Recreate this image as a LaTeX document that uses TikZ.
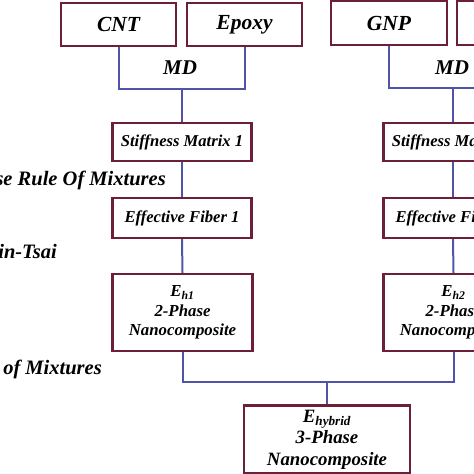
\documentclass[tikz,border=0pt]{standalone}
\usepackage{fontspec}
\setmainfont{Liberation Serif}
\definecolor{boxred}{HTML}{6E1F38}
\definecolor{linkblue}{HTML}{5054A8}
\tikzset{
  every node/.style={font=\bfseries\itshape},
  box/.style={draw=boxred, line width=2.3pt, fill=white, inner sep=0pt, align=center},
  link/.style={draw=linkblue, line width=2pt},
  top/.style={box, minimum width=115pt, minimum height=43pt, font=\fontsize{21.5}{23}\selectfont\bfseries\itshape},
  lbl/.style={inner sep=0pt, anchor=east, font=\fontsize{20.5}{22}\selectfont\bfseries\itshape}
}
\begin{document}
\begin{tikzpicture}[x=1pt,y=-1pt]
\useasboundingbox (0,0) rectangle (474,474);
\clip (0,0) rectangle (474,474);
% top boxes
\node[top] (cnt) at (118.5,24.5) {CNT};
\node[top] (epoxy) at (244.5,24.5) {Epoxy};
\node[top, minimum width=116pt, minimum height=44pt] (gnp) at (389,23) {GNP};
\node[top, minimum width=116pt, minimum height=44pt] (epoxyb) at (515,23) {};
% MD labels
\node[font=\fontsize{21}{23}\selectfont\bfseries\itshape, inner sep=0pt] (md1) at (180,68) {MD};
\node[font=\fontsize{21}{23}\selectfont\bfseries\itshape, inner sep=0pt] (md2) at (452,68) {MD};
% column boxes
\tikzset{mid/.style={box, minimum width=139pt, font=\fontsize{16.6}{18}\selectfont\bfseries\itshape},
         big/.style={box, minimum width=140pt, minimum height=77pt, font=\fontsize{16.8}{19.5}\selectfont\bfseries\itshape}}
\node[mid, minimum height=38pt] (stiff1) at (182,142) {Stiffness Matrix 1};
\node[mid, minimum height=40pt] (fib1) at (182,218) {Effective Fiber 1};
\node[big] (eh1) at (182.5,312.5) {E\textsubscript{h1}\\2-Phase\\Nanocomposite};
\node[mid, minimum height=38pt] (stiff2) at (453,142) {Stiffness Matrix 2};
\node[mid, minimum height=40pt] (fib2) at (453,218) {Effective Fiber 2};
\node[big] (eh2) at (453.5,312.5) {E\textsubscript{h2}\\2-Phase\\Nanocomposite};
\node[box, minimum width=166pt, minimum height=68pt, font=\fontsize{18.8}{21.5}\selectfont\bfseries\itshape] (hyb) at (327,439.5) {E\textsubscript{hybrid}\\3-Phase\\Nanocomposite};
% side labels
\node[lbl] (irom) at (166,180) {Inverse Rule Of Mixtures};
\node[lbl] (ht) at (57,254) {Halpin-Tsai};
\node[lbl] (rom) at (102,369) {Rule of Mixtures};
% junction coordinates
\coordinate (j1) at (182,89);
\coordinate (j2) at (453,88);
\coordinate (j3) at (327,382);
% connectors
\draw[link] (cnt.south) |- (j1) -| (epoxy.south);
\draw[link] (j1) -- (stiff1.north);
\draw[link] (gnp.south) |- (j2) -| (epoxyb.south);
\draw[link] (j2) -- (stiff2.north);
\draw[link] (stiff1.south) -- (fib1.north);
\draw[link] (fib1.south) -- (eh1.north);
\draw[link] (stiff2.south) -- (fib2.north);
\draw[link] (fib2.south) -- (eh2.north);
\draw[link] (eh1.south) |- (j3) -| (eh2.south);
\draw[link] (j3) -- (hyb.north);
\end{tikzpicture}
\end{document}
